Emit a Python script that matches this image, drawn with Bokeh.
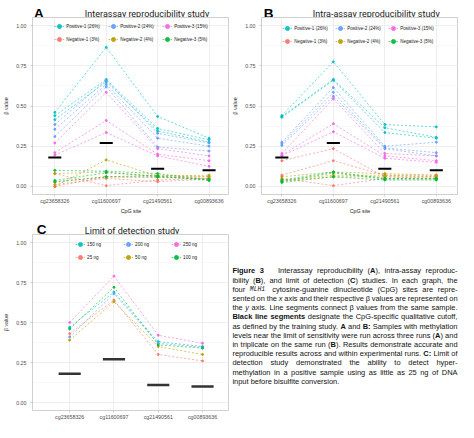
from bokeh.plotting import figure
from bokeh.models import Range1d, FixedTicker, Legend, LegendItem, NumeralTickFormatter
from bokeh.core.properties import value
from bokeh.layouts import column, row
from bokeh.embed import file_html
from bokeh.resources import INLINE

# ---------------- data ----------------
SITES = ["cg23658326", "cg11600697", "cg21490561", "cg00893636"]
CUTOFFS = [0.18, 0.27, 0.11, 0.10]
Y_TICKS = [0.0, 0.25, 0.5, 0.75, 1.0]
Y_MINOR = [0.125, 0.375, 0.625, 0.875]

SAMPLE_NAMES = ["Positive-1 (26%)", "Positive-2 (24%)", "Positive-3 (15%)",
                "Negative-1 (3%)", "Negative-2 (4%)", "Negative-3 (5%)"]
SAMPLE_COLORS = ["#00BFC4", "#619CFF", "#F564E3", "#F8766D", "#B79F00", "#00BA38"]

# Panel A: interassay study, three runs per sample (beta at the four sites)
A_POSITIVE_1 = [[0.46, 0.865, 0.435, 0.30], [0.44, 0.665, 0.36, 0.29], [0.415, 0.65, 0.345, 0.275]]
A_POSITIVE_2 = [[0.385, 0.66, 0.33, 0.27], [0.355, 0.635, 0.30, 0.25], [0.31, 0.62, 0.245, 0.22]]
A_POSITIVE_3 = [[0.27, 0.585, 0.235, 0.19], [0.21, 0.41, 0.20, 0.16], [0.195, 0.335, 0.19, 0.125]]
A_NEGATIVE_1 = [[0.08, 0.005, 0.04, 0.05], [0.012, 0.05, 0.03, 0.045], [0.0, 0.06, 0.06, 0.06]]
A_NEGATIVE_2 = [[0.0, 0.165, 0.065, 0.07], [0.025, 0.06, 0.07, 0.06], [0.08, 0.09, 0.06, 0.05]]
A_NEGATIVE_3 = [[0.10, 0.095, 0.08, 0.04], [0.037, 0.085, 0.065, 0.037], [0.03, 0.06, 0.057, 0.045]]

# Panel B: intra-assay study, triplicates on the same run
B_POSITIVE_1 = [[0.44, 0.775, 0.385, 0.37], [0.435, 0.665, 0.365, 0.305], [0.43, 0.66, 0.335, 0.30]]
B_POSITIVE_2 = [[0.275, 0.615, 0.25, 0.275], [0.265, 0.585, 0.24, 0.21], [0.255, 0.56, 0.235, 0.19]]
B_POSITIVE_3 = [[0.205, 0.545, 0.205, 0.19], [0.195, 0.39, 0.19, 0.16], [0.19, 0.34, 0.175, 0.15]]
B_NEGATIVE_1 = [[0.16, 0.235, 0.06, 0.06], [0.07, 0.16, 0.07, 0.07], [0.05, 0.005, 0.05, 0.05]]
B_NEGATIVE_2 = [[0.06, 0.09, 0.08, 0.07], [0.04, 0.07, 0.07, 0.06], [0.035, 0.06, 0.06, 0.05]]
B_NEGATIVE_3 = [[0.04, 0.09, 0.05, 0.05], [0.03, 0.085, 0.045, 0.045], [0.025, 0.06, 0.04, 0.04]]

# Panel C: limit of detection (input DNA amounts)
LOD_NAMES = ["150 ng", "200 ng", "250 ng", "25 ng", "50 ng", "100 ng"]
LOD_150 = [0.47, 0.69, 0.38, 0.35]
LOD_200 = [0.41, 0.68, 0.37, 0.345]
LOD_250 = [0.50, 0.79, 0.42, 0.37]
LOD_25 = [0.43, 0.64, 0.30, 0.26]
LOD_50 = [0.39, 0.63, 0.35, 0.30]
LOD_100 = [0.46, 0.72, 0.36, 0.34]

TITLE_A = "Interassay reproducibility study"
TITLE_B = "Intra-assay reproducibility study"
TITLE_C = "Limit of detection study"

# caption: *bold*  _italic_  ~mono italic~
CAPTION_LINES = [
    "*Figure 3*   Interassay reproducibility (*A*), intra-assay reproduc-",
    "ibility (*B*), and limit of detection (*C*) studies. In each graph, the",
    "four ~MLH1~ cytosine-guanine dinucleotide (CpG) sites are repre-",
    "sented on the _x_ axis and their respective \u03b2 values are represented on",
    "the _y_ axis. Line segments connect \u03b2 values from the same sample.",
    "*Black line segments* designate the CpG-specific qualitative cutoff,",
    "as defined by the training study. *A* and *B:* Samples with methylation",
    "levels near the limit of sensitivity were run across three runs (*A*) and",
    "in triplicate on the same run (*B*). Results demonstrate accurate and",
    "reproducible results across and within experimental runs. *C:* Limit of",
    "detection study demonstrated the ability to detect hyper-",
    "methylation in a positive sample using as little as 25 ng of DNA",
    "input before bisulfite conversion.",
]

# ---------------- geometry / style ----------------
SX = 458 / 474
SY = 422 / 438
X_POS = list(range(1, len(SITES) + 1))
PLOT_FONT = "Liberation Sans"

REG_W = {" ": 278, "(": 333, ")": 333, ",": 278, "-": 333, ".": 278, ":": 278, "%": 889, "\u03b2": 575,
         "A": 667, "B": 667, "C": 722, "D": 722, "E": 667, "F": 611, "G": 778, "H": 722, "I": 278,
         "J": 500, "K": 667, "L": 556, "M": 833, "N": 722, "O": 778, "P": 667, "Q": 778, "R": 722,
         "S": 667, "T": 611, "U": 722, "V": 667, "W": 944, "X": 667, "Y": 667, "Z": 611,
         "a": 556, "b": 556, "c": 500, "d": 556, "e": 556, "f": 278, "g": 556, "h": 556, "i": 222,
         "j": 222, "k": 500, "l": 222, "m": 833, "n": 556, "o": 556, "p": 556, "q": 556, "r": 333,
         "s": 500, "t": 278, "u": 556, "v": 500, "w": 722, "x": 500, "y": 500, "z": 500}
BOLD_W = {" ": 278, "(": 333, ")": 333, ":": 333, "A": 722, "B": 722, "C": 722, "F": 611,
          "a": 556, "c": 556, "e": 556, "g": 611, "i": 278, "k": 556, "l": 278, "m": 889,
          "n": 611, "r": 389, "s": 556, "t": 333, "u": 611, "d": 611, "h": 611, "o": 611}


def sx(v):
    return v * SX


def sy(v):
    return v * SY


def char_w(c, style):
    if style == "mono":
        return 600
    if style == "bold":
        return BOLD_W.get(c, REG_W.get(c, 556) * 1.08)
    return REG_W.get(c, 556)


def text_canvas(width, height):
    t = figure(width=width, height=height, x_range=Range1d(0, width), y_range=Range1d(height, 0),
               min_border=0, min_border_left=0, min_border_right=0, min_border_top=0, min_border_bottom=0,
               output_backend="svg", toolbar_location=None, tools="",
               x_axis_type=None, y_axis_type=None, title=None)
    t.outline_line_color = None
    t.background_fill_color = "white"
    t.border_fill_color = "white"
    return t


def make_panel(cell, frame, cats, title, title_pos, letter, letter_pos,
               groups, legend_glyph_x, legend_row_y, legend_pitch,
               seg_half, seg_color, seg_width, x_label):
    cx0, cy0, cx1, cy1 = cell
    fl, ft, fr, fb = frame
    W = round(sx(cx1)) - round(sx(cx0))
    H = round(sy(cy1)) - round(sy(cy0))
    hh = round(sy(ft - cy0))
    fig_h = H - hh
    bl = round(sx(fl - cx0))
    fw = round(sx(fr - fl))
    br = W - bl - fw
    fh = round(sy(fb - ft))
    bb = fig_h - fh
    step = (cats[-1] - cats[0]) / (len(cats) - 1)
    x0 = 1 - (cats[0] - fl) / step
    x1 = len(cats) + (fr - cats[-1]) / step

    # header strip: panel letter + title
    hdr = text_canvas(W, hh)
    tx, tyb = title_pos
    lx, lyb = letter_pos
    hdr.text(x=[sx(lx - cx0)], y=[sy(lyb - cy0)], text=[letter], text_font=value("Liberation Sans"),
             text_font_size=value("13.5px"), text_font_style=value("bold"), text_color="#000000",
             text_baseline="alphabetic", text_align="left")
    hdr.text(x=[sx(tx - cx0)], y=[sy(tyb - cy0)], text=[title], text_font=value("Roboto"),
             text_font_size=value("9px"), text_color="#1a1a1a",
             text_baseline="alphabetic", text_align="left")

    p = figure(width=W, height=fig_h, x_range=Range1d(x0, x1), y_range=Range1d(-0.05, 1.05),
               min_border_left=bl, min_border_right=br, min_border_top=0, min_border_bottom=bb,
               output_backend="svg", toolbar_location=None, tools="", title=None)
    p.background_fill_color = "white"
    p.border_fill_color = "white"
    p.outline_line_color = "#c4c4c4"
    p.outline_line_width = 0.8

    xt = FixedTicker(ticks=X_POS, minor_ticks=[])
    yt = FixedTicker(ticks=Y_TICKS, minor_ticks=Y_MINOR)
    p.xaxis.ticker = xt
    p.xgrid.ticker = xt
    p.yaxis.ticker = yt
    p.ygrid.ticker = yt
    p.xaxis.major_label_overrides = {x: s for x, s in zip(X_POS, SITES)}
    p.yaxis.formatter = NumeralTickFormatter(format="0.00")
    p.xgrid.grid_line_color = "#e6e6e6"
    p.xgrid.grid_line_width = 0.7
    p.ygrid.grid_line_color = "#e6e6e6"
    p.ygrid.grid_line_width = 0.7
    p.ygrid.minor_grid_line_color = "#f3f3f3"
    p.ygrid.minor_grid_line_width = 0.5

    for ax in (p.xaxis[0], p.yaxis[0]):
        ax.axis_line_color = None
        ax.major_tick_line_color = "#b3b3b3"
        ax.major_tick_line_width = 0.6
        ax.major_tick_out = 2
        ax.major_tick_in = 0
        ax.minor_tick_line_color = None
        ax.major_label_text_font = PLOT_FONT
        ax.major_label_text_font_size = "5.3px"
        ax.major_label_text_color = "#4d4d4d"
        ax.axis_label_text_font = PLOT_FONT
        ax.axis_label_text_font_size = "5.3px"
        ax.axis_label_text_font_style = "normal"
        ax.axis_label_text_color = "#1a1a1a"
    p.yaxis.axis_label = "\u03b2 value"
    p.yaxis.major_label_standoff = 2
    p.yaxis.axis_label_standoff = 4
    p.xaxis.major_label_standoff = 1
    p.xaxis.axis_label_standoff = 1
    if x_label:
        p.xaxis.axis_label = x_label

    items = []
    for name, color, runs in groups:
        first = None
        for vals in runs:
            ln = p.line(X_POS, vals, line_color=color, line_width=0.7, line_dash="2 2", line_alpha=0.85)
            sc = p.scatter(X_POS, vals, size=2.0, fill_color=color, line_color=color, alpha=0.9)
            if first is None:
                first = [ln, sc]
        items.append(LegendItem(label=name, renderers=first))

    p.segment(x0=[x - seg_half for x in X_POS], y0=CUTOFFS,
              x1=[x + seg_half for x in X_POS], y1=CUTOFFS,
              line_color=seg_color, line_width=seg_width, line_cap="butt")

    pad, row_h, spacing, gw, stand = 2, 12, 1, 10, 2
    leg_h = 2 * pad + 2 * row_h + spacing
    lgx = sx(legend_glyph_x - fl) - pad
    top = sy(legend_row_y - ft) - pad - row_h / 2
    legend = Legend(items=items, location=(lgx, fh - top - leg_h), orientation="horizontal", ncols=3,
                    glyph_width=gw, glyph_height=row_h, label_height=row_h,
                    label_width=round(sx(legend_pitch)) - gw - stand - spacing,
                    label_standoff=stand, spacing=spacing, padding=pad, margin=0,
                    border_line_color=None, background_fill_alpha=0,
                    label_text_font=PLOT_FONT, label_text_font_size="4.6px",
                    label_text_color="#222222")
    p.add_layout(legend)
    return column(hdr, p)


def parse_caption(line):
    """split a marked-up caption line into words made of (text, style) runs"""
    bold = ital = mono = False
    chars = []
    for c in line:
        if c == "*":
            bold = not bold
        elif c == "_":
            ital = not ital
        elif c == "~":
            mono = not mono
        else:
            style = "mono" if mono else ("bold" if bold else ("italic" if ital else "normal"))
            chars.append((c, style))
    words, cur = [], []
    for c, st in chars:
        if c == " ":
            words.append(cur)
            cur = []
        else:
            if cur and cur[-1][1] == st:
                cur[-1] = (cur[-1][0] + c, st)
            else:
                cur.append((c, st))
    words.append(cur)
    return words


def make_caption(width, height):
    cap = text_canvas(width, height)
    left, right = sx(3), sx(236)
    avail = right - left
    parsed = [parse_caption(l) for l in CAPTION_LINES]

    def word_em(word):
        return sum(char_w(c, st) for txt, st in word for c in txt) / 1000.0

    max_em = max(sum(word_em(w) for w in ws) + 0.24 * (len(ws) - 1) for ws in parsed[:-1])
    fs = min(7.8, avail / max_em)
    out = {"normal": ([], [], []), "bold": ([], [], []), "italic": ([], [], []), "mono": ([], [], [])}
    for i, ws in enumerate(parsed):
        yc = sy(280.5 - 224 + i * 9.55)
        widths = [word_em(w) * fs for w in ws]
        nsep = len(ws) - 1
        if i == len(parsed) - 1:
            gap = 0.278 * fs
        else:
            gap = (avail - sum(widths)) / nsep
        x = left
        for w, wd in zip(ws, widths):
            xx = x
            for txt, st in w:
                out[st][0].append(xx)
                out[st][1].append(yc)
                out[st][2].append(txt)
                xx += sum(char_w(c, st) for c in txt) / 1000.0 * fs
            x += wd + gap
    fonts = {"normal": ("Liberation Sans", "normal"), "bold": ("Liberation Sans", "bold"),
             "italic": ("Liberation Sans", "italic"), "mono": ("Liberation Mono", "italic")}
    for st, (xs, ys, ts) in out.items():
        if not xs:
            continue
        font, fstyle = fonts[st]
        size = fs * (0.86 if st == "mono" else 1.0)
        cap.text(x=xs, y=ys, text=ts, text_font=value(font), text_font_style=value(fstyle),
                 text_font_size=value("%.2fpx" % size), text_color="#111111",
                 text_baseline="middle", text_align="left")
    return cap


A_GROUPS = list(zip(SAMPLE_NAMES, SAMPLE_COLORS,
                    [A_POSITIVE_1, A_POSITIVE_2, A_POSITIVE_3, A_NEGATIVE_1, A_NEGATIVE_2, A_NEGATIVE_3]))
B_GROUPS = list(zip(SAMPLE_NAMES, SAMPLE_COLORS,
                    [B_POSITIVE_1, B_POSITIVE_2, B_POSITIVE_3, B_NEGATIVE_1, B_NEGATIVE_2, B_NEGATIVE_3]))
C_GROUPS = list(zip(LOD_NAMES, SAMPLE_COLORS,
                    [[LOD_150], [LOD_200], [LOD_250], [LOD_25], [LOD_50], [LOD_100]]))

pA = make_panel((0, 0, 237, 224), (25, 17.5, 237, 205.5), (49, 103, 159, 215),
                TITLE_A, (63, 13.5), "A", (1.7, 13.8),
                A_GROUPS, 50, 29.3, 56, 0.127, "#000000", 2, "CpG site")
pB = make_panel((237, 0, 474, 224), (261, 17.5, 474, 205.5), (283, 339, 394, 450),
                TITLE_B, (298.7, 13.5), "B", (239.7, 13.5),
                B_GROUPS, 285, 31, 55, 0.127, "#000000", 2, "CpG site")
pC = make_panel((0, 224, 237, 438), (25, 242.5, 237, 429.5), (65, 113, 160, 208),
                TITLE_C, (63, 239), "C", (5, 237.2),
                C_GROUPS, 71.7, 255, 50, 0.25, "#333333", 2.5, None)

cap_w = round(sx(474)) - round(sx(237))
cap_h = round(sy(438)) - round(sy(224))
caption = make_caption(cap_w, cap_h)

layout = column(row(pA, pB), row(pC, caption))
open("out.html", "w").write(file_html(layout, INLINE))
